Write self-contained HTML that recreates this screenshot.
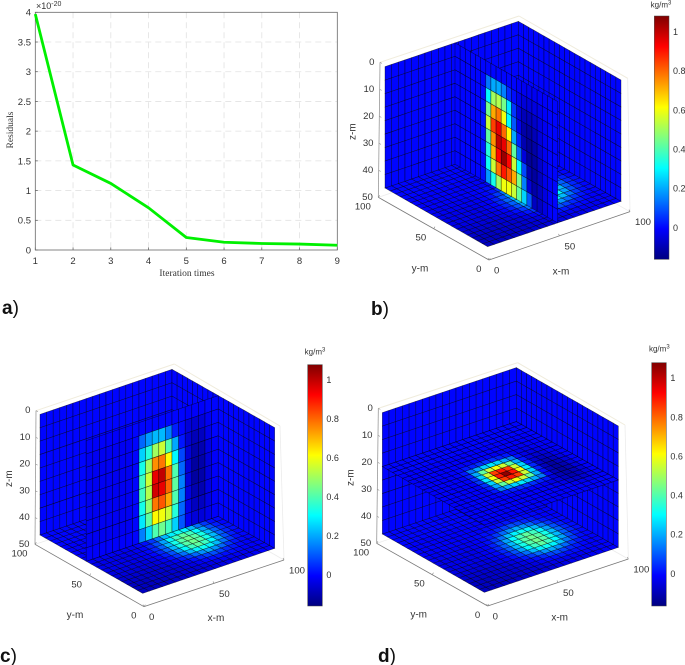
<!DOCTYPE html>
<html lang="en">
<head>
<meta charset="utf-8">
<title>Residuals and density slices</title>
<style>
html,body{margin:0;padding:0;background:#fff;width:685px;height:665px;overflow:hidden}
svg{display:block;filter:blur(0.35px)}
text{font-family:"Liberation Sans",sans-serif;fill:#333}
.serif{font-family:"Liberation Serif",serif}
.tag{font-size:19px;fill:#111;font-weight:bold}
.tag tspan{font-weight:normal}
</style>
</head>
<body>
<svg id="fig" xmlns="http://www.w3.org/2000/svg" width="685" height="665" viewBox="0 0 685 665">
<rect x="0" y="0" width="685" height="665" fill="#fff"/>
<text class="tag" x="2" y="314">a<tspan>)</tspan></text>
<text class="tag" x="371" y="315">b<tspan>)</tspan></text>
<text class="tag" x="0" y="662">c<tspan>)</tspan></text>
<text class="tag" x="378" y="662">d<tspan>)</tspan></text>
<text class="serif" x="187" y="276" font-size="9.5" text-anchor="middle">Iteration times</text>
<text class="serif" x="13" y="130" font-size="9.5" text-anchor="middle" transform="rotate(-90 13 130)">Residuals</text>
<text x="36" y="9" font-size="9">×10<tspan font-size="7" dy="-3">-20</tspan></text>
</svg>
<script>
/* ---------- panel a data ---------- */
var iterations = [1,2,3,4,5,6,7,8,9];
var residuals = [3.97,1.43,1.12,0.71,0.21,0.13,0.11,0.10,0.08];
var residualTicks = [0,0.5,1,1.5,2,2.5,3,3.5,4];
var residualTickLabels = ['0','0.5','1','1.5','2','2.5','3','3.5','4'];

/* ---------- density values, in hundredths of kg/m3 ---------- */
var floorValues = [
[-8,-8,-8,-8,-8,-7,-7,-6,-6,-5,-5,-4,-4,-3,-3,-3,-2,-2,-1,-1],
[-8,-8,-8,-8,-8,-7,-7,-6,-6,-5,-4,-3,-3,-2,-2,-2,-2,-2,-1,-1],
[-8,-8,-8,-7,-7,-7,-6,-6,-5,-4,-2,0,1,2,1,1,0,-1,-1,-1],
[-7,-7,-7,-7,-7,-6,-6,-5,-4,-2,1,4,7,9,7,4,2,0,-1,-1],
[-6,-6,-6,-6,-6,-6,-5,-4,-2,2,6,12,17,20,17,12,6,2,0,-1],
[-5,-5,-5,-5,-5,-5,-4,-2,1,6,13,22,29,32,29,22,13,6,1,0],
[-4,-4,-4,-4,-4,-4,-3,-1,3,9,19,30,38,42,38,30,19,9,3,0],
[-3,-3,-3,-3,-3,-3,-2,0,4,11,22,33,41,44,41,33,22,11,4,1],
[-3,-3,-3,-3,-3,-3,-2,0,4,11,22,33,41,44,41,33,22,11,4,1],
[-3,-3,-3,-3,-3,-3,-2,-1,3,9,19,30,38,42,38,30,19,9,3,0],
[-2,-2,-2,-2,-2,-2,-2,-1,1,6,13,22,29,32,29,22,13,6,1,0],
[-2,-2,-2,-2,-2,-2,-2,-1,0,2,6,12,17,20,17,12,6,2,0,-1],
[-1,-1,-1,-1,-1,-1,-1,-1,0,1,1,4,7,9,7,4,2,0,-1,-1],
[-1,-1,-1,-1,-1,-1,-1,-1,-1,-1,0,0,1,2,1,1,0,0,-1,-1],
[-1,-1,-1,-1,-1,-1,-1,-1,-1,-1,-1,-1,-1,0,0,0,0,-1,-1,-1],
[-1,-1,-1,-1,-1,-1,-1,-1,-1,-1,-1,-1,-1,-1,-1,-1,-1,-1,-1,-1],
[0,0,0,0,0,0,0,0,0,0,0,0,0,0,0,0,0,0,0,0],
[0,0,0,0,0,0,0,0,0,0,0,0,0,0,0,0,0,0,0,0],
[0,0,0,0,0,0,0,0,0,0,0,0,0,0,0,0,0,0,0,0],
[0,0,0,0,0,0,0,0,0,0,0,0,0,0,0,0,0,0,0,0]];

var wallYValues = [
[0,0,0,0,0,0,0,0,0,0,0,0,0,0,0,0,0,0,0,0],
[0,0,0,0,0,0,0,0,0,0,0,0,0,0,0,0,0,0,0,0],
[0,0,0,0,0,0,0,0,0,0,0,0,0,0,0,0,0,0,0,0],
[0,0,0,0,0,0,0,0,0,0,0,0,0,0,0,0,0,0,0,0],
[0,0,0,0,0,0,0,0,0,0,0,0,0,0,0,0,0,0,0,0],
[0,0,0,0,0,0,0,0,0,0,0,0,0,0,0,0,0,0,0,0],
[0,0,0,0,0,0,0,0,0,0,0,0,0,0,0,0,0,0,0,0],
[0,0,0,0,0,0,0,0,0,0,0,0,0,0,0,0,0,0,0,0],
[0,0,0,0,0,0,0,0,0,0,0,0,0,0,0,0,0,0,0,0]];

var wallXValues = [
[0,0,0,0,0,0,0,0,0,0,0,0,0,0,0,0,0,0,0,0],
[0,0,0,0,0,0,0,0,0,0,0,0,0,0,0,0,0,0,0,0],
[0,0,0,0,0,0,0,0,0,0,0,0,0,0,0,0,0,0,0,0],
[0,0,0,0,0,0,0,0,0,0,0,0,0,0,0,0,0,0,0,0],
[0,0,0,0,0,0,0,0,0,0,0,0,0,0,0,0,0,0,0,0],
[0,0,0,0,0,0,0,0,0,0,0,0,0,0,0,0,0,0,0,0],
[0,0,0,0,0,0,0,0,0,0,0,0,0,0,0,0,0,0,0,0],
[0,0,0,0,0,0,0,0,0,0,0,0,0,0,0,0,0,0,0,0],
[0,0,0,0,0,0,0,0,0,0,0,0,0,0,0,0,0,0,0,0]];

var sliceXValues = [
[0,0,0,0,0,0,0,0,0,0,0,0,-1,-2,-2,-2,-1,-1,0,0],
[0,0,0,0,0,0,14,20,20,15,5,1,-3,-5,-5,-4,-3,-1,0,0],
[0,0,0,0,0,1,30,50,52,45,28,6,-5,-9,-9,-7,-4,-2,0,0],
[0,0,0,0,0,2,45,72,78,60,30,10,-3,-11,-12,-9,-5,-2,0,0],
[0,0,0,0,0,2,55,85,95,80,62,20,3,-10,-13,-11,-6,-2,0,0],
[0,0,0,0,0,2,42,75,100,95,80,42,12,-5,-13,-12,-7,-3,0,0],
[0,0,0,0,0,2,35,70,92,105,92,55,30,8,-10,-12,-8,-3,-1,0],
[0,0,0,0,0,1,32,55,78,90,82,72,45,15,-5,-11,-8,-4,-1,0],
[0,0,0,0,0,1,18,33,50,60,60,55,42,25,10,-8,-8,-4,-1,0]];

var sliceYValues = [
[-1,-1,-1,-1,-1,-1,-1,0,0,0,0,0,0,0,0,-1,-1,-1,0,0],
[-2,-2,-2,-2,-2,-2,-2,0,12,18,22,22,15,3,0,-5,-6,-5,-2,0],
[-2,-2,-2,-2,-2,-2,-2,0,25,35,50,55,40,20,2,-6,-9,-8,-3,0],
[-2,-2,-2,-2,-2,-2,-2,0,33,50,75,78,62,30,8,-5,-11,-10,-4,-1],
[-2,-2,-2,-2,-2,-2,-2,0,38,55,95,100,78,40,12,-5,-12,-11,-5,-1],
[-2,-2,-2,-2,-2,-2,-2,0,38,52,98,95,80,42,15,-5,-12,-11,-5,-1],
[-2,-2,-2,-2,-2,-2,-2,0,33,48,78,82,72,40,15,-4,-10,-10,-4,-1],
[-2,-2,-2,-2,-2,-2,-2,0,28,42,62,60,55,35,12,-3,-8,-8,-4,-1],
[-1,-1,-1,-1,-1,-1,-1,0,15,26,40,44,38,25,10,-2,-5,-5,-3,-1]];

var sliceZValues = [
[-1,-1,-1,-1,-1,-1,-1,-1,-1,-1,-1,-1,-1,-1,-1,-1,-1,-1,0,0],
[-1,-1,-1,-1,-1,-1,-1,-1,-1,-1,-1,-1,-1,-1,-1,-1,-1,-1,0,0],
[-1,-1,-1,-1,-1,-1,-1,-1,-1,-1,-1,-1,-1,-1,-1,-2,-3,-3,-2,-1],
[-1,-1,-1,-1,-1,-1,-1,-1,-1,-1,-1,-1,-1,-2,-3,-6,-7,-6,-3,-1],
[-1,-1,-1,-1,-1,-1,-1,-1,-1,-1,-1,-1,-2,-3,-4,-8,-10,-8,-4,-1],
[-1,-1,-1,-1,-1,-1,0,2,3,5,6,5,3,2,-5,-9,-11,-9,-5,-1],
[-1,-1,-1,-1,-1,-1,2,14,20,25,28,25,20,14,0,-9,-12,-10,-5,-1],
[-1,-1,-1,-1,-1,-1,3,20,42,55,60,55,42,20,1,-9,-12,-10,-5,-1],
[-1,-1,-1,-1,-1,-1,5,25,55,85,90,85,55,25,3,-8,-12,-9,-5,-1],
[-1,-1,-1,-1,-1,-1,6,28,60,90,106,90,60,28,4,-7,-10,-8,-4,-1],
[-1,-1,-1,-1,-1,-1,5,25,55,85,90,85,55,25,3,-6,-8,-7,-3,-1],
[-1,-1,-1,-1,-1,-1,3,20,42,55,60,55,42,20,2,-4,-6,-5,-2,-1],
[-1,-1,-1,-1,-1,-1,2,14,20,25,28,25,20,14,1,-3,-4,-3,-2,-1],
[-1,-1,-1,-1,-1,-1,0,2,3,5,6,5,3,2,-2,-3,-3,-2,-1,-1],
[-1,-1,-1,-1,-1,-1,-1,-1,-1,-1,-1,-1,-2,-2,-2,-2,-2,-1,-1,0],
[-1,-1,-1,-1,-1,-1,-1,-1,-1,-1,-1,-1,-1,-1,-1,-1,-1,-1,-1,0],
[-1,-1,-1,-1,-1,-1,-1,-1,-1,-1,-1,-1,-1,-1,-1,-1,-1,-1,-1,0],
[0,0,0,0,0,0,0,0,0,0,0,0,0,0,0,0,0,0,0,0],
[0,0,0,0,0,0,0,0,0,0,0,0,0,0,0,0,0,0,0,0],
[0,0,0,0,0,0,0,0,0,0,0,0,0,0,0,0,0,0,0,0]];

var zTicks = [0,10,20,30,40,50];
var horizontalTicks = [0,50,100];
var colorbarTicks = [0,0.2,0.4,0.6,0.8,1];
var colorbarTickLabels = ['0','0.2','0.4','0.6','0.8','1'];
var colorMin = -0.16;
var colorMax = 1.08;

var NS = 'http://www.w3.org/2000/svg';
var fig = document.getElementById('fig');

function make(tag, attrs, parent, content) {
  var el = document.createElementNS(NS, tag);
  for (var k in attrs) el.setAttribute(k, attrs[k]);
  if (content !== undefined) el.textContent = content;
  parent.appendChild(el);
  return el;
}
function clamp(v) { return Math.max(0, Math.min(1, v)); }
function jet(v) {
  var t = (v - colorMin) / (colorMax - colorMin);
  var r = clamp(Math.min(4 * t - 1.5, -4 * t + 4.5));
  var g = clamp(Math.min(4 * t - 0.5, -4 * t + 3.5));
  var b = clamp(Math.min(4 * t + 0.5, -4 * t + 2.5));
  return 'rgb(' + Math.round(r * 255) + ',' + Math.round(g * 255) + ',' + Math.round(b * 255) + ')';
}

/* ---------- panel a ---------- */
function drawLineChart() {
  var g = make('g', {}, fig);
  
  
  var left = 35.3, right = 337.3, top = 12.3, bottom = 250;
  function sx(v) { return left + (v - 1) / 8 * (right - left); }
  function sy(v) { return bottom - v / 4 * (bottom - top); }
  residualTicks.forEach(function (t, idx) {
    if (t > 0 && t < 4) {
      var gl = make('line', {x1: left, x2: right, y1: sy(t), y2: sy(t), stroke: '#e2e2e2', 'stroke-width': 0.8, 'stroke-dasharray': '6 4'}, g);
      
      
    }
    var tl = make('text', {x: 31, y: sy(t) + 3.4, 'font-size': 9.5, 'text-anchor': 'end'}, g, residualTickLabels[idx]);
    
    
    var tk = make('line', {x1: left, x2: left + 2.5, y1: sy(t), y2: sy(t), stroke: '#555', 'stroke-width': 0.7}, g);
    
    
  });
  iterations.forEach(function (t) {
    if (t > 1 && t < 9) {
      var gl = make('line', {x1: sx(t), x2: sx(t), y1: top, y2: bottom, stroke: '#e2e2e2', 'stroke-width': 0.8, 'stroke-dasharray': '6 4'}, g);
      
      
    }
    var tl = make('text', {x: sx(t), y: 264, 'font-size': 9.5, 'text-anchor': 'middle'}, g, String(t));
    
    
    var tk = make('line', {x1: sx(t), x2: sx(t), y1: bottom, y2: bottom - 2.5, stroke: '#555', 'stroke-width': 0.7}, g);
    
    
  });
  var box = make('rect', {x: left, y: top, width: right - left, height: bottom - top, fill: 'none', stroke: '#666', 'stroke-width': 0.8}, g);
  
  
  var pts = iterations.map(function (t, i) { return sx(t) + ',' + sy(residuals[i]); }).join(' ');
  var line = make('polyline', {points: pts, fill: 'none', stroke: '#00f000', 'stroke-width': 2.8, 'stroke-linejoin': 'round'}, g);
  
  
}

/* ---------- 3-D panels; geometry in 3x-zoomed local units ---------- */
var panelB = {name: 'b', ox: 345, oy: 0, F: [428,740], R: [828,604], L: [120,564], H: 364,
  O: [432,780], XE: [855,635], YE: [100,592], LT: [105,187], BT: [522,48], RT: [848,235],
  bar: {x: 928, w: 44, top: 48, bottom: 778, one: 95, zero: 683, label: [948,38]},
  slice: {axis: 'x', pos: 10.5, values: sliceXValues}};
var panelC = {name: 'c', ox: 0, oy: 340, F: [428,760], R: [824,625], L: [120,585], H: 362,
  O: [432,800], XE: [852,660], YE: [105,613], LT: [108,212], BT: [523,72], RT: [840,258],
  bar: {x: 923, w: 44, top: 74, bottom: 798, one: 120, zero: 704, label: [945,58]},
  slice: {axis: 'y', pos: 11, values: sliceYValues}};
var panelD = {name: 'd', ox: 345, oy: 340, F: [418,757], R: [820,622], L: [112,582], H: 364,
  O: [428,798], XE: [850,657], YE: [95,610], LT: [100,205], BT: [518,68], RT: [840,255],
  bar: {x: 920, w: 44, top: 68, bottom: 798, one: 114, zero: 701, label: [943,50]},
  slice: {axis: 'z', pos: 4, values: sliceZValues}};

function drawPanel(P) {
  var g = make('g', {}, fig);
  
  
  function s(pt) { return [P.ox + pt[0] / 3, P.oy + pt[1] / 3]; }
  function proj(i, j, r) {
    return s([
      P.F[0] + i * (P.R[0] - P.F[0]) / 20 + j * (P.L[0] - P.F[0]) / 20,
      P.F[1] + i * (P.R[1] - P.F[1]) / 20 + j * (P.L[1] - P.F[1]) / 20 - P.H * (9 - r) / 9
    ]);
  }
  function seg(a, b, col, w, name) {
    var pa = s(a), pb = s(b);
    var l = make('line', {x1: pa[0], y1: pa[1], x2: pb[0], y2: pb[1], stroke: col, 'stroke-width': w}, g);
    
    
  }
  var BB = [P.XE[0] + P.YE[0] - P.O[0], P.XE[1] + P.YE[1] - P.O[1]];
  var RB = P.XE;
  seg(P.LT, P.BT, '#f0ecdc', 1, 'box-edge');
  seg(P.BT, P.RT, '#f0ecdc', 1, 'box-edge');
  seg(P.RT, RB, '#ececec', 0.8, 'box-edge');
  seg(RB, BB, '#ececec', 0.8, 'box-edge');
  seg(P.YE, BB, '#ececec', 0.8, 'box-edge');
  seg(P.O, P.XE, '#777', 0.8, 'x-axis-line');
  seg(P.O, P.YE, '#777', 0.8, 'y-axis-line');
  seg(P.YE, P.LT, '#999', 0.8, 'z-axis-line');

  function quad(a, b, c, d, v) {
    var q = make('polygon', {points: [a, b, c, d].map(function (p) { return p[0].toFixed(2) + ',' + p[1].toFixed(2); }).join(' '),
      fill: jet(v / 100), stroke: '#000', 'stroke-opacity': 0.62, 'stroke-width': 0.55}, g);
    
    
  }
  floorValues.forEach(function (row, j) {
    row.forEach(function (v, i) { quad(proj(i, j, 9), proj(i + 1, j, 9), proj(i + 1, j + 1, 9), proj(i, j + 1, 9), v); });
  });
  wallYValues.forEach(function (row, r) {
    row.forEach(function (v, i) { quad(proj(i, 20, r), proj(i + 1, 20, r), proj(i + 1, 20, r + 1), proj(i, 20, r + 1), v); });
  });
  wallXValues.forEach(function (row, r) {
    row.forEach(function (v, c) { quad(proj(20, 20 - c, r), proj(20, 19 - c, r), proj(20, 19 - c, r + 1), proj(20, 20 - c, r + 1), v); });
  });
  var sl = P.slice;
  if (sl.axis === 'x') {
    sl.values.forEach(function (row, r) {
      row.forEach(function (v, c) { quad(proj(sl.pos, 20 - c, r), proj(sl.pos, 19 - c, r), proj(sl.pos, 19 - c, r + 1), proj(sl.pos, 20 - c, r + 1), v); });
    });
  } else if (sl.axis === 'y') {
    sl.values.forEach(function (row, r) {
      row.forEach(function (v, k) { quad(proj(k, sl.pos, r), proj(k + 1, sl.pos, r), proj(k + 1, sl.pos, r + 1), proj(k, sl.pos, r + 1), v); });
    });
  } else {
    sl.values.forEach(function (row, j) {
      row.forEach(function (v, i) { quad(proj(i, j, sl.pos), proj(i + 1, j, sl.pos), proj(i + 1, j + 1, sl.pos), proj(i, j + 1, sl.pos), v); });
    });
  }

  /* ticks */
  function label(pt, dx, dy, txt, anchor, name) {
    var p = s(pt);
    var t = make('text', {x: p[0] + dx, y: p[1] + dy, 'font-size': 9.6, 'text-anchor': anchor}, g, txt);
    
    
  }
  zTicks.forEach(function (v) {
    var f = v / 50;
    var pt = [P.LT[0] + f * (P.YE[0] - P.LT[0]), P.LT[1] + f * (P.YE[1] - P.LT[1])];
    label(pt, -5.5, 2.5, String(v), 'end', 'z-tick-label');
    seg(pt, [pt[0] + 6, pt[1] + 3], '#888', 0.6, 'z-tick');
  });
  horizontalTicks.forEach(function (v) {
    var f = v / 100;
    var px = [P.O[0] + f * (P.XE[0] - P.O[0]), P.O[1] + f * (P.XE[1] - P.O[1])];
    var py = [P.O[0] + f * (P.YE[0] - P.O[0]), P.O[1] + f * (P.YE[1] - P.O[1])];
    label(px, 5, 13.5, String(v), 'start', 'x-tick-label');
    label(py, -7.5, 12, String(v), 'end', 'y-tick-label');
    seg(px, [px[0] - 3, px[1] - 6], '#888', 0.6, 'x-tick');
    seg(py, [py[0] + 4, py[1] - 6], '#888', 0.6, 'y-tick');
  });
  var pO = s(P.O), pY = s(P.YE);
  var xt = make('text', {x: pO[0] + 72, y: pO[1] + 14.5, 'font-size': 10, 'text-anchor': 'middle'}, g, 'x-m');
  
  
  var yt = make('text', {x: pO[0] - 69, y: pO[1] + 11.5, 'font-size': 10, 'text-anchor': 'middle'}, g, 'y-m');
  
  
  var zx = pY[0] - 23, zy = pY[1] - 65.7;
  var zt = make('text', {x: zx, y: zy, 'font-size': 10, 'text-anchor': 'middle', transform: 'rotate(-90 ' + zx + ' ' + zy + ')'}, g, 'z-m');
  
  

  /* colorbar */
  var b = P.bar;
  var gid = 'jet-' + P.name;
  var defs = make('defs', {}, g);
  var lg = make('linearGradient', {id: gid, x1: 0, y1: 1, x2: 0, y2: 0}, defs);
  for (var n = 0; n <= 32; n++) {
    make('stop', {offset: n / 32, 'stop-color': jet(colorMin + (colorMax - colorMin) * n / 32)}, lg);
  }
  var tl = s([b.x, b.top]), br = s([b.x + b.w, b.bottom]);
  var rect = make('rect', {x: tl[0], y: tl[1], width: br[0] - tl[0], height: br[1] - tl[1], fill: 'url(#' + gid + ')', stroke: '#444', 'stroke-width': 0.5}, g);
  
  
  colorbarTicks.forEach(function (v, idx) {
    var y = b.zero + v * (b.one - b.zero);
    var p = s([b.x + b.w, y]);
    var t = make('text', {x: p[0] + 4, y: p[1] + 3.2, 'font-size': 9}, g, colorbarTickLabels[idx]);
    
    
  });
  var lp = s(b.label);
  var unit = make('text', {x: lp[0], y: lp[1] - 5, 'font-size': 8, 'text-anchor': 'middle'}, g, 'kg/m');
  
  
  make('tspan', {'font-size': 6, dy: -3}, unit, '3');
}

drawLineChart();
drawPanel(panelB);
drawPanel(panelC);
drawPanel(panelD);
</script>
</body>
</html>
